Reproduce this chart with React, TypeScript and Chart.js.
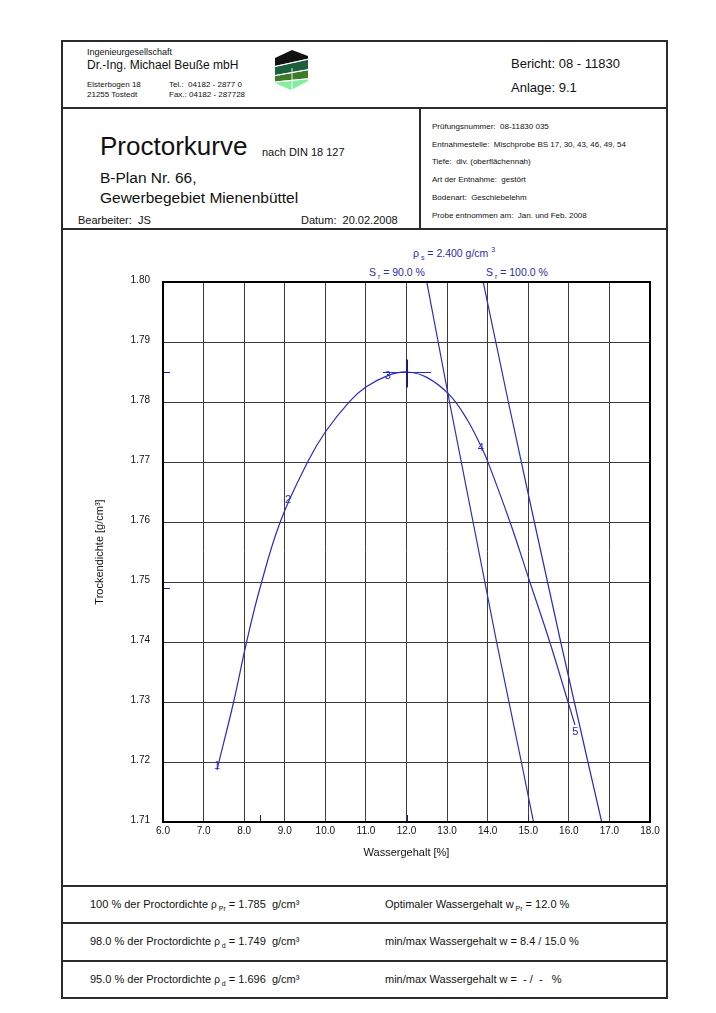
import React, { useEffect, useRef } from 'react';
import { Chart, registerables } from 'chart.js';

Chart.register(...registerables);

const FONT = "'Liberation Sans', Arial, Helvetica, sans-serif";
const CURVE_BLUE = '#2a2ac4';
const LABEL_BLUE = '#2c2ca6';
const NAVY = '#1c1c78';
const FRAME = '#2b2b2b';

// Axis ranges
const waterMin = 6.0;
const waterMax = 18.0;
const densityMin = 1.71;
const densityMax = 1.8;

// Fitted Proctor curve (water content [%], dry density [g/cm³])
const curveWater = [7.33, 7.74, 8.06, 8.39, 8.9, 9.58, 10.0, 10.6, 11.0, 11.54, 12.0, 12.5, 13.07, 13.5, 13.83, 14.0, 14.55, 15.04, 15.53, 15.98, 16.15];
const curveDensity = [1.7187, 1.73, 1.74, 1.749, 1.7602, 1.7702, 1.775, 1.7801, 1.7825, 1.7844, 1.785, 1.7841, 1.7811, 1.777, 1.7727, 1.7701, 1.76, 1.75, 1.74, 1.73, 1.7262];

// Test points 1..5
const pointWater = [7.33, 9.08, 11.54, 13.83, 16.16];
const pointDensity = [1.7193, 1.7637, 1.7843, 1.7723, 1.725];

// Saturation lines (ρs = 2.400 g/cm³)
const saturationDensity = [1.8, 1.78, 1.76, 1.74, 1.72, 1.71];
const saturation90Water = [12.5, 13.06, 13.64, 14.22, 14.83, 15.13];
const saturation100Water = [13.89, 14.51, 15.15, 15.8, 16.47, 16.81];

// Results
const proctorLevels = ['100', '98.0', '95.0'];
const proctorDensities = [1.785, 1.749, 1.696];
const optimumWater = 12.0;
const waterRange98 = [8.4, 15.0];

const toPoints = (xs: number[], ys: number[]) => xs.map((x, i) => ({ x, y: ys[i] }));

const overlayPlugin = {
  id: 'proctorOverlay',
  afterDatasetsDraw(chart: any) {
    const { ctx, chartArea: a, scales } = chart;
    const x = scales.x;
    const y = scales.y;
    ctx.save();

    // point numbers
    ctx.fillStyle = CURVE_BLUE;
    ctx.font = `11px ${FONT}`;
    ctx.textAlign = 'center';
    ctx.textBaseline = 'middle';
    pointWater.forEach((w, i) => {
      ctx.fillText(String(i + 1), x.getPixelForValue(w), y.getPixelForValue(pointDensity[i]));
    });

    // optimum cross
    const ox = Math.round(x.getPixelForValue(optimumWater));
    const oy = Math.round(y.getPixelForValue(proctorDensities[0])) + 0.5;
    ctx.strokeStyle = CURVE_BLUE;
    ctx.lineWidth = 1;
    ctx.beginPath();
    ctx.moveTo(ox - 24, oy);
    ctx.lineTo(ox + 24, oy);
    ctx.stroke();
    ctx.strokeStyle = NAVY;
    ctx.lineWidth = 2;
    ctx.beginPath();
    ctx.moveTo(ox, oy - 13);
    ctx.lineTo(ox, oy + 15);
    ctx.stroke();

    // marks on the axes
    ctx.strokeStyle = NAVY;
    ctx.lineWidth = 1;
    [waterRange98[0], optimumWater, waterRange98[1]].forEach((w) => {
      const px = Math.round(x.getPixelForValue(w)) + 0.5;
      ctx.beginPath();
      ctx.moveTo(px, a.bottom);
      ctx.lineTo(px, a.bottom - 7);
      ctx.stroke();
    });
    [proctorDensities[0], proctorDensities[1]].forEach((d) => {
      const py = Math.round(y.getPixelForValue(d)) + 0.5;
      ctx.beginPath();
      ctx.moveTo(a.left, py);
      ctx.lineTo(a.left + 7, py);
      ctx.stroke();
    });

    // plot frame
    ctx.strokeStyle = '#000';
    ctx.lineWidth = 2;
    ctx.strokeRect(a.left, a.top, a.right - a.left, a.bottom - a.top);
    ctx.restore();
  },
};

function ProctorChart() {
  const ref = useRef<HTMLCanvasElement | null>(null);
  useEffect(() => {
    if (!ref.current) return;
    const lineSet = (label: string, data: any[], extra: any = {}) => ({
      label,
      data,
      showLine: true,
      borderColor: CURVE_BLUE,
      backgroundColor: CURVE_BLUE,
      borderWidth: 1.2,
      pointRadius: 0,
      fill: false,
      ...extra,
    });
    const chart = new Chart(ref.current, {
      type: 'scatter',
      data: {
        datasets: [
          lineSet('Proctorkurve', toPoints(curveWater, curveDensity), { tension: 0.4 }),
          lineSet('Sr = 90.0 %', toPoints(saturation90Water, saturationDensity), { tension: 0 }),
          lineSet('Sr = 100.0 %', toPoints(saturation100Water, saturationDensity), { tension: 0 }),
        ],
      },
      options: {
        animation: false,
        responsive: false,
        maintainAspectRatio: false,
        layout: { padding: { top: 51, right: 14, left: 0, bottom: 0 } },
        plugins: { legend: { display: false }, tooltip: { enabled: false } },
        scales: {
          x: {
            type: 'linear',
            min: waterMin,
            max: waterMax,
            ticks: {
              stepSize: 1,
              autoSkip: false,
              maxRotation: 0,
              padding: 3,
              color: '#111',
              font: { family: FONT, size: 10 },
              callback: (v: any) => Number(v).toFixed(1),
            },
            grid: { color: '#3c3c3c', lineWidth: 1, drawTicks: false },
            border: { display: true, color: '#000', width: 2 },
            title: {
              display: true,
              text: 'Wassergehalt [%]',
              color: '#111',
              font: { family: FONT, size: 11 },
              padding: { top: 0, bottom: 21 },
            },
            afterFit: (s: any) => {
              s.height = 59;
            },
          },
          y: {
            type: 'linear',
            min: densityMin,
            max: densityMax,
            ticks: {
              stepSize: 0.01,
              autoSkip: false,
              padding: 13,
              labelOffset: -2,
              color: '#111',
              font: { family: FONT, size: 10 },
              callback: (v: any) => Number(v).toFixed(2),
            },
            grid: { color: '#3c3c3c', lineWidth: 1, drawTicks: false },
            border: { display: true, color: '#000', width: 2 },
            title: {
              display: true,
              text: 'Trockendichte [g/cm³]',
              color: '#111',
              font: { family: FONT, size: 11 },
              padding: { top: 29, bottom: 0 },
            },
            afterFit: (s: any) => {
              s.width = 99;
            },
          },
        },
      } as any,
      plugins: [overlayPlugin],
    });
    return () => chart.destroy();
  }, []);
  return (
    <canvas
      ref={ref}
      width={600}
      height={650}
      style={{ position: 'absolute', left: 64, top: 231, width: 600, height: 650 }}
    />
  );
}

// text placed by its baseline
function T({ x, base, size, children, color = '#111', style = {} }: any) {
  return (
    <div
      style={{
        position: 'absolute',
        left: x,
        top: base - 0.947 * size,
        fontSize: size,
        lineHeight: `${1.2 * size}px`,
        whiteSpace: 'pre',
        color,
        ...style,
      }}
    >
      {children}
    </div>
  );
}

const Sub = ({ children, size = 7, dy = 3 }: any) => (
  <span style={{ fontSize: size, position: 'relative', top: dy }}>{children}</span>
);

function HLine({ y, x1 = 62, x2 = 667 }: any) {
  return <div style={{ position: 'absolute', left: x1, top: y - 1, width: x2 - x1, height: 2, background: FRAME }} />;
}
function VLine({ x, y1, y2 }: any) {
  return <div style={{ position: 'absolute', left: x - 1, top: y1, width: 2, height: y2 - y1, background: FRAME }} />;
}

function Logo() {
  return (
    <svg
      width={50}
      height={60}
      viewBox="0 0 50 60"
      style={{ position: 'absolute', left: 270, top: 40 }}
    >
      <defs>
        <clipPath id="hexClip">
          <polygon points="5,18 22,10 38,16 38,41 21,50 5,43" />
        </clipPath>
      </defs>
      <g clipPath="url(#hexClip)">
        <polygon points="0,0 50,0 50,16 0,27" fill="#121212" />
        <polygon points="0,28 50,17 50,27 0,36" fill="#1d5f3d" />
        <polygon points="0,37 50,28 50,37 0,42" fill="#3d7a2a" />
        <polygon points="0,43 50,38 50,60 0,60" fill="#84eda2" />
        <line x1="22" y1="28" x2="22" y2="52" stroke="#fff" strokeWidth="0.9" />
        <line x1="0" y1="27.5" x2="50" y2="16.5" stroke="#fff" strokeWidth="0.9" />
        <line x1="0" y1="36.5" x2="50" y2="27.5" stroke="#fff" strokeWidth="0.9" />
        <line x1="0" y1="42.5" x2="50" y2="37.5" stroke="#fff" strokeWidth="0.9" />
      </g>
    </svg>
  );
}

export default function App() {
  const infoRows = [
    'Prüfungsnummer:  08-11830 035',
    'Entnahmestelle:  Mischprobe BS 17, 30, 43, 46, 49, 54',
    'Tiefe:  div. (oberflächennah)',
    'Art der Entnahme:  gestört',
    'Bodenart:  Geschiebelehm',
    'Probe entnommen am:  Jan. und Feb. 2008',
  ];
  const infoBase = [129.5, 147.3, 165, 182.8, 200.6, 218.4];
  const rowBase = [908, 945, 983];
  const rightCol = [
    <>
      Optimaler Wassergehalt w<Sub> Pr</Sub> = {optimumWater.toFixed(1)} %
    </>,
    <>min/max Wassergehalt w = {waterRange98[0].toFixed(1)} / {waterRange98[1].toFixed(1)} %</>,
    <>min/max Wassergehalt w =  - /  -   %</>,
  ];
  const subs = [' Pr', ' d', ' d'];

  return (
    <div
      style={{
        position: 'absolute',
        left: 0,
        top: 0,
        width: 716,
        height: 1013,
        background: '#fff',
        fontFamily: FONT,
        color: '#111',
        overflow: 'hidden',
      }}
    >
      {/* frame */}
      <HLine y={41} />
      <HLine y={108} />
      <HLine y={229} />
      <HLine y={886} />
      <HLine y={923} />
      <HLine y={961} />
      <HLine y={998} />
      <VLine x={62} y1={40} y2={999} />
      <VLine x={667} y1={40} y2={999} />
      <VLine x={420} y1={108} y2={229} />

      {/* letterhead */}
      <T x={87} base={55.5} size={9}>Ingenieurgesellschaft</T>
      <T x={87} base={69} size={12}>Dr.-Ing. Michael Beuße mbH</T>
      <T x={87} base={87.3} size={8}>Elsterbogen 18</T>
      <T x={87} base={97.3} size={8}>21255 Tostedt</T>
      <T x={169} base={87.3} size={8}>Tel.:  04182 - 2877 0</T>
      <T x={169} base={97.3} size={8}>Fax.: 04182 - 287728</T>
      <Logo />
      <T x={511} base={68.3} size={13}>Bericht: 08 - 11830</T>
      <T x={511} base={92.3} size={13}>Anlage: 9.1</T>

      {/* title block */}
      <T x={100} base={156} size={26}>Proctorkurve</T>
      <T x={262} base={156} size={11}>nach DIN 18 127</T>
      <T x={100} base={184} size={15.5}>B-Plan Nr. 66,</T>
      <T x={100} base={204} size={15.5}>Gewerbegebiet Mienenbüttel</T>
      <T x={78} base={224} size={11}>Bearbeiter:  JS</T>
      <T x={301} base={224} size={11}>Datum:  20.02.2008</T>
      {infoRows.map((r, i) => (
        <T key={r} x={432} base={infoBase[i]} size={8}>
          {r}
        </T>
      ))}

      {/* chart */}
      <T x={413} base={257} size={10.5} color={LABEL_BLUE}>
        ρ<Sub size={7} dy={3}> s</Sub> = 2.400 g/cm <span style={{ fontSize: 7, position: 'relative', top: -5 }}>3</span>
      </T>
      <T x={369} base={275.5} size={10.5} color={LABEL_BLUE}>
        S<Sub size={7} dy={3}> r</Sub> = 90.0 %
      </T>
      <T x={486} base={275.5} size={10.5} color={LABEL_BLUE}>
        S<Sub size={7} dy={3}> r</Sub> = 100.0 %
      </T>
      <ProctorChart />

      {/* results */}
      {proctorLevels.map((lvl, i) => (
        <React.Fragment key={lvl}>
          <T x={90} base={rowBase[i]} size={11}>
            {lvl} % der Proctordichte <span style={{ fontSize: 10 }}>ρ</span>
            <Sub>{subs[i]}</Sub> = {proctorDensities[i].toFixed(3)}  g/cm³
          </T>
          <T x={385} base={rowBase[i]} size={11}>
            {rightCol[i]}
          </T>
        </React.Fragment>
      ))}
    </div>
  );
}
